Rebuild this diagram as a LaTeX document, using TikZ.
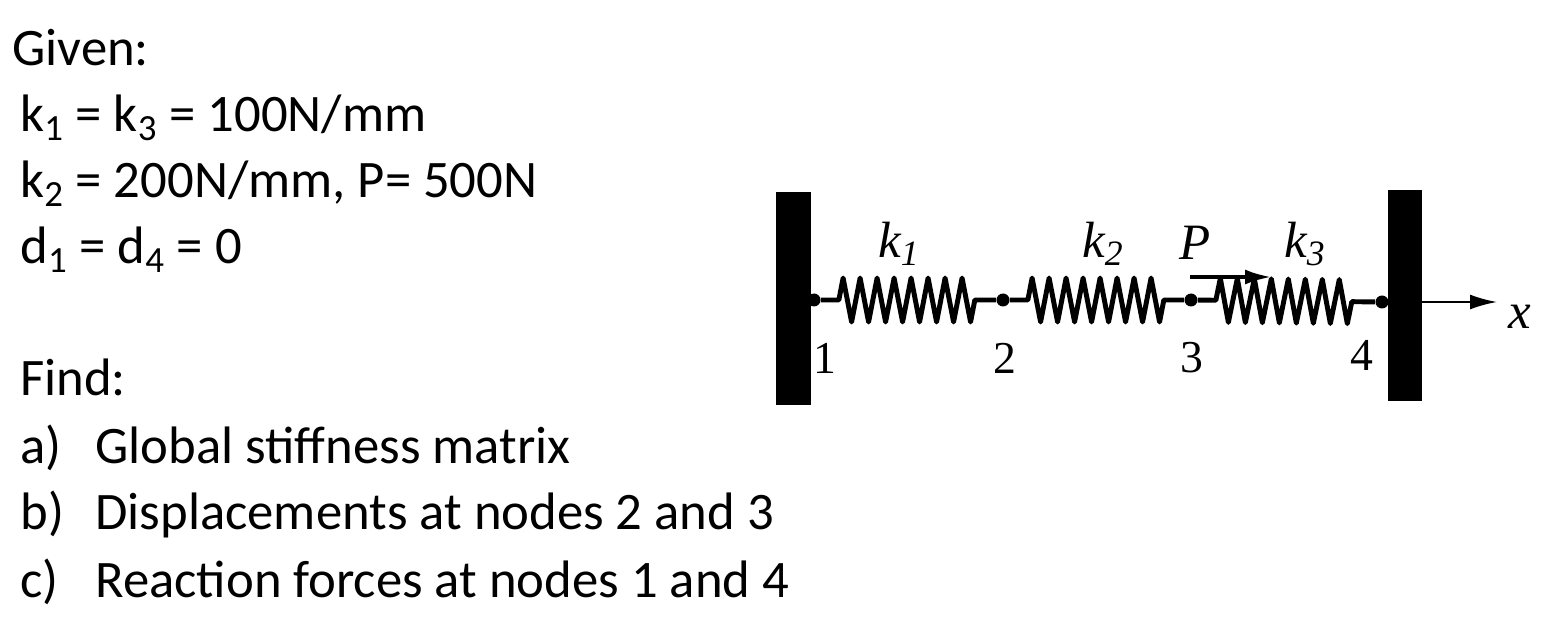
\documentclass[tikz,border=0pt]{standalone}
\usepackage{fontspec}
\setmainfont{Carlito}
\newfontfamily\labelfont{Liberation Serif}
\usetikzlibrary{arrows.meta,decorations.pathmorphing,positioning}

\begin{document}
\begin{tikzpicture}[x=0.02cm, y=-0.02cm]

	\tikzstyle{linea}=[anchor=base west, inner sep=0pt, font=\fontsize{30}{34}\selectfont]
	\tikzstyle{pared}=[draw=none, fill=black, inner sep=0pt]
	\tikzstyle{nodo}=[circle, fill=black, inner sep=0pt, minimum size=0.26cm]
	\tikzstyle{num}=[inner sep=0pt, font=\labelfont\fontsize{26}{30}\selectfont]
	\tikzstyle{rig}=[inner sep=0pt, font=\labelfont\itshape\fontsize{29}{32}\selectfont]
	\tikzstyle{resorte}=[line width=2.8pt, line join=round, decorate, decoration={zigzag, amplitude=0.44cm, segment length=0.34cm, pre length=0.36cm, post length=0.36cm}]
	\tikzstyle{flecha}=[-{Latex[length=0.54cm, width=0.3cm]}]

	\useasboundingbox (0, 0) rectangle (1566, 638);

	\coordinate (t_1) at (12, 66);
	\coordinate (t_2) at (20, 132);
	\coordinate (t_3) at (20, 198);
	\coordinate (t_4) at (20, 264);
	\coordinate (t_5) at (20, 396);
	\coordinate (t_6) at (20, 464);
	\coordinate (t_7) at (20, 530);
	\coordinate (t_8) at (20, 597);

	\node[linea] (given) at (t_1) {Given:};
	\node[linea] (dato_1) at (t_2) {k\textsubscript{1} = k\textsubscript{3} = 100N/mm};
	\node[linea] (dato_2) at (t_3) {k\textsubscript{2} = 200N/mm, P= 500N};
	\node[linea] (dato_3) at (t_4) {d\textsubscript{1} = d\textsubscript{4} = 0};
	\node[linea] (find) at (t_5) {Find:};
	\node[linea] (item_a) at (t_6) {a)};
	\node[linea] (item_b) at (t_7) {b)};
	\node[linea] (item_c) at (t_8) {c)};
	\node[linea] (texto_a) at (95, 464) {Global stiffness matrix};
	\node[linea] (texto_b) at (95, 530) {Displacements at nodes 2 and 3};
	\node[linea] (texto_c) at (95, 597) {Reaction forces at nodes 1 and 4};

	\node[pared, minimum width=0.7cm, minimum height=4.26cm] (pared_1) at (793.5, 298.5) {};
	\node[pared, minimum width=0.68cm, minimum height=4.22cm] (pared_2) at (1405, 295.5) {};

	\node[nodo] (n_1) at (814, 300) {};
	\node[nodo] (n_2) at (1003, 300) {};
	\node[nodo] (n_3) at (1191, 300) {};
	\node[nodo] (n_4) at (1382, 302) {};

	\coordinate (p_ini) at (1190, 277);
	\coordinate (p_fin) at (1272, 277);
	\coordinate (x_fin) at (1497, 302);

	\draw[resorte] (n_1) -- (n_2);
	\draw[resorte] (n_2) -- (n_3);
	\draw[resorte] (n_3) -- (n_4);

	\draw[flecha, line width=2.4pt] (p_ini) -- (p_fin);
	\draw[flecha, line width=1.2pt] (n_4 -| pared_2.east) -- (x_fin);

	\node[rig] (k_1) at (899, 244) {k\textsubscript{1}};
	\node[rig] (k_2) at (1103, 244) {k\textsubscript{2}};
	\node[rig] (k_3) at (1305, 244) {k\textsubscript{3}};
	\node[rig] (p) at (1195, 243) {P};
	\node[rig] (x) at (1520, 317) {x};

	\node[num] (l_1) at (825, 358) {1};
	\node[num] (l_2) at (1005, 358) {2};
	\node[num] (l_3) at (1192, 358) {3};
	\node[num] (l_4) at (1362, 355) {4};

\end{tikzpicture}
\end{document}
